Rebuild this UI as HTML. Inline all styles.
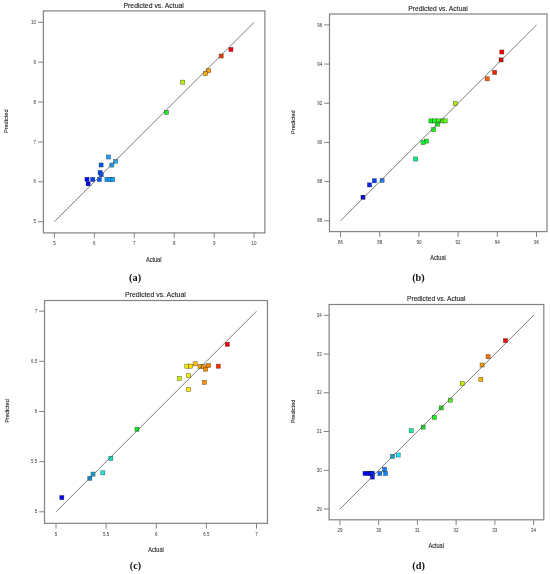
<!DOCTYPE html>
<html><head><meta charset="utf-8"><title>Predicted vs. Actual</title>
<style>
html,body{margin:0;padding:0;background:#fff;}
body{width:550px;height:574px;overflow:hidden;}
svg{display:block;}
.tk{font-family:"Liberation Sans",sans-serif;font-size:5.8px;fill:#333333;}
.ti{font-family:"Liberation Sans",sans-serif;font-size:7.8px;fill:#222;stroke:#222;stroke-width:.12px;}
.al{font-family:"Liberation Sans",sans-serif;font-size:6.4px;fill:#1e1e1e;stroke:#1e1e1e;stroke-width:.1px;}
.pl{font-family:"Liberation Sans",sans-serif;font-size:6.2px;fill:#1e1e1e;stroke:#1e1e1e;stroke-width:.1px;}
.lb{font-family:"Liberation Serif",serif;font-size:11px;font-weight:bold;fill:#111;}
</style></head>
<body>
<svg width="550" height="574" viewBox="0 0 550 574">
<rect width="550" height="574" fill="#fff"/>
<rect x="228.85" y="47.45" width="4.1" height="4.1" fill="#ff0000" stroke="rgba(0,0,0,.5)" stroke-width=".6"/>
<rect x="219.15" y="53.95" width="4.1" height="4.1" fill="#ff4000" stroke="rgba(0,0,0,.5)" stroke-width=".6"/>
<rect x="206.45" y="68.65" width="4.1" height="4.1" fill="#ffa000" stroke="rgba(0,0,0,.5)" stroke-width=".6"/>
<rect x="203.45" y="71.55" width="4.1" height="4.1" fill="#ffb000" stroke="rgba(0,0,0,.5)" stroke-width=".6"/>
<rect x="180.65" y="80.15" width="4.1" height="4.1" fill="#b0f010" stroke="rgba(0,0,0,.5)" stroke-width=".6"/>
<rect x="164.35" y="110.35" width="4.1" height="4.1" fill="#20f020" stroke="rgba(0,0,0,.5)" stroke-width=".6"/>
<rect x="106.45" y="154.95" width="4.1" height="4.1" fill="#20a0ff" stroke="rgba(0,0,0,.5)" stroke-width=".6"/>
<rect x="113.55" y="159.25" width="4.1" height="4.1" fill="#20b8ff" stroke="rgba(0,0,0,.5)" stroke-width=".6"/>
<rect x="109.75" y="163.05" width="4.1" height="4.1" fill="#10a8ff" stroke="rgba(0,0,0,.5)" stroke-width=".6"/>
<rect x="99.05" y="162.95" width="4.1" height="4.1" fill="#0060ff" stroke="rgba(0,0,0,.5)" stroke-width=".6"/>
<rect x="98.05" y="170.45" width="4.1" height="4.1" fill="#0050ff" stroke="rgba(0,0,0,.5)" stroke-width=".6"/>
<rect x="99.15" y="172.65" width="4.1" height="4.1" fill="#0050ff" stroke="rgba(0,0,0,.5)" stroke-width=".6"/>
<rect x="84.95" y="177.25" width="4.1" height="4.1" fill="#0008ff" stroke="rgba(0,0,0,.5)" stroke-width=".6"/>
<rect x="90.65" y="177.45" width="4.1" height="4.1" fill="#0038ff" stroke="rgba(0,0,0,.5)" stroke-width=".6"/>
<rect x="97.35" y="177.45" width="4.1" height="4.1" fill="#0060ff" stroke="rgba(0,0,0,.5)" stroke-width=".6"/>
<rect x="104.85" y="177.45" width="4.1" height="4.1" fill="#10a0ff" stroke="rgba(0,0,0,.5)" stroke-width=".6"/>
<rect x="107.75" y="177.45" width="4.1" height="4.1" fill="#10a0ff" stroke="rgba(0,0,0,.5)" stroke-width=".6"/>
<rect x="110.65" y="177.45" width="4.1" height="4.1" fill="#10a0ff" stroke="rgba(0,0,0,.5)" stroke-width=".6"/>
<rect x="86.05" y="181.75" width="4.1" height="4.1" fill="#0000f4" stroke="rgba(0,0,0,.5)" stroke-width=".6"/>
<line x1="54.4" y1="221.7" x2="254.1" y2="22.3" stroke="#5a5a5a" stroke-width=".8"/>
<rect x="43.4" y="10.9" width="221.5" height="222" fill="none" stroke="#828282" stroke-width="1.2"/>
<line x1="54.4" y1="232.9" x2="54.4" y2="238.2" stroke="#828282" stroke-width="1"/>
<text x="54.4" y="245" class="tk" text-anchor="middle" textLength="2.5" lengthAdjust="spacingAndGlyphs">5</text>
<line x1="94.34" y1="232.9" x2="94.34" y2="238.2" stroke="#828282" stroke-width="1"/>
<text x="94.34" y="245" class="tk" text-anchor="middle" textLength="2.5" lengthAdjust="spacingAndGlyphs">6</text>
<line x1="134.28" y1="232.9" x2="134.28" y2="238.2" stroke="#828282" stroke-width="1"/>
<text x="134.28" y="245" class="tk" text-anchor="middle" textLength="2.5" lengthAdjust="spacingAndGlyphs">7</text>
<line x1="174.22" y1="232.9" x2="174.22" y2="238.2" stroke="#828282" stroke-width="1"/>
<text x="174.22" y="245" class="tk" text-anchor="middle" textLength="2.5" lengthAdjust="spacingAndGlyphs">8</text>
<line x1="214.16" y1="232.9" x2="214.16" y2="238.2" stroke="#828282" stroke-width="1"/>
<text x="214.16" y="245" class="tk" text-anchor="middle" textLength="2.5" lengthAdjust="spacingAndGlyphs">9</text>
<line x1="254.1" y1="232.9" x2="254.1" y2="238.2" stroke="#828282" stroke-width="1"/>
<text x="254.1" y="245" class="tk" text-anchor="middle" textLength="5" lengthAdjust="spacingAndGlyphs">10</text>
<line x1="38.1" y1="221.7" x2="43.4" y2="221.7" stroke="#828282" stroke-width="1"/>
<text x="36.1" y="223.3" class="tk" text-anchor="end" textLength="2.5" lengthAdjust="spacingAndGlyphs">5</text>
<line x1="38.1" y1="181.82" x2="43.4" y2="181.82" stroke="#828282" stroke-width="1"/>
<text x="36.1" y="183.42" class="tk" text-anchor="end" textLength="2.5" lengthAdjust="spacingAndGlyphs">6</text>
<line x1="38.1" y1="141.94" x2="43.4" y2="141.94" stroke="#828282" stroke-width="1"/>
<text x="36.1" y="143.54" class="tk" text-anchor="end" textLength="2.5" lengthAdjust="spacingAndGlyphs">7</text>
<line x1="38.1" y1="102.06" x2="43.4" y2="102.06" stroke="#828282" stroke-width="1"/>
<text x="36.1" y="103.66" class="tk" text-anchor="end" textLength="2.5" lengthAdjust="spacingAndGlyphs">8</text>
<line x1="38.1" y1="62.18" x2="43.4" y2="62.18" stroke="#828282" stroke-width="1"/>
<text x="36.1" y="63.78" class="tk" text-anchor="end" textLength="2.5" lengthAdjust="spacingAndGlyphs">9</text>
<line x1="38.1" y1="22.3" x2="43.4" y2="22.3" stroke="#828282" stroke-width="1"/>
<text x="36.1" y="23.9" class="tk" text-anchor="end" textLength="5" lengthAdjust="spacingAndGlyphs">10</text>
<text x="153.65" y="7.6" class="ti" text-anchor="middle" textLength="60.3" lengthAdjust="spacingAndGlyphs">Predicted vs. Actual</text>
<text x="153.7" y="261.7" class="al" text-anchor="middle" textLength="15.6" lengthAdjust="spacingAndGlyphs">Actual</text>
<text x="0" y="0" class="pl" text-anchor="middle" textLength="23.6" lengthAdjust="spacingAndGlyphs" transform="translate(8 121.3) rotate(-90)">Predicted</text>
<text x="135.1" y="281" class="lb" text-anchor="middle" textLength="12" lengthAdjust="spacingAndGlyphs">(a)</text>
<rect x="499.75" y="49.95" width="4.1" height="4.1" fill="#ff0000" stroke="rgba(0,0,0,.5)" stroke-width=".6"/>
<rect x="499.05" y="57.85" width="4.1" height="4.1" fill="#e80000" stroke="rgba(0,0,0,.5)" stroke-width=".6"/>
<rect x="492.55" y="70.35" width="4.1" height="4.1" fill="#ff2000" stroke="rgba(0,0,0,.5)" stroke-width=".6"/>
<rect x="485.15" y="76.75" width="4.1" height="4.1" fill="#ff6000" stroke="rgba(0,0,0,.5)" stroke-width=".6"/>
<rect x="453.25" y="101.45" width="4.1" height="4.1" fill="#b0f000" stroke="rgba(0,0,0,.5)" stroke-width=".6"/>
<rect x="428.85" y="118.85" width="4.1" height="4.1" fill="#10f810" stroke="rgba(0,0,0,.5)" stroke-width=".6"/>
<rect x="432.55" y="118.85" width="4.1" height="4.1" fill="#20fa20" stroke="rgba(0,0,0,.5)" stroke-width=".6"/>
<rect x="436.45" y="118.85" width="4.1" height="4.1" fill="#38ff20" stroke="rgba(0,0,0,.5)" stroke-width=".6"/>
<rect x="440.35" y="118.85" width="4.1" height="4.1" fill="#50f810" stroke="rgba(0,0,0,.5)" stroke-width=".6"/>
<rect x="443.15" y="118.85" width="4.1" height="4.1" fill="#60ff10" stroke="rgba(0,0,0,.5)" stroke-width=".6"/>
<rect x="435.45" y="122.15" width="4.1" height="4.1" fill="#10f810" stroke="rgba(0,0,0,.5)" stroke-width=".6"/>
<rect x="431.45" y="127.55" width="4.1" height="4.1" fill="#10ff10" stroke="rgba(0,0,0,.5)" stroke-width=".6"/>
<rect x="424.35" y="139.05" width="4.1" height="4.1" fill="#10f830" stroke="rgba(0,0,0,.5)" stroke-width=".6"/>
<rect x="420.95" y="140.45" width="4.1" height="4.1" fill="#10f830" stroke="rgba(0,0,0,.5)" stroke-width=".6"/>
<rect x="413.55" y="156.95" width="4.1" height="4.1" fill="#00f080" stroke="rgba(0,0,0,.5)" stroke-width=".6"/>
<rect x="380.05" y="178.35" width="4.1" height="4.1" fill="#2080ff" stroke="rgba(0,0,0,.5)" stroke-width=".6"/>
<rect x="372.35" y="178.75" width="4.1" height="4.1" fill="#0040ff" stroke="rgba(0,0,0,.5)" stroke-width=".6"/>
<rect x="367.45" y="182.85" width="4.1" height="4.1" fill="#0020ff" stroke="rgba(0,0,0,.5)" stroke-width=".6"/>
<rect x="360.95" y="195.25" width="4.1" height="4.1" fill="#0000e8" stroke="rgba(0,0,0,.5)" stroke-width=".6"/>
<line x1="340.5" y1="220.8" x2="536.5" y2="24.9" stroke="#5a5a5a" stroke-width=".8"/>
<rect x="329.5" y="14" width="217.5" height="217.6" fill="none" stroke="#828282" stroke-width="1.2"/>
<line x1="340.5" y1="231.6" x2="340.5" y2="236.9" stroke="#828282" stroke-width="1"/>
<text x="340.5" y="244" class="tk" text-anchor="middle" textLength="5" lengthAdjust="spacingAndGlyphs">86</text>
<line x1="379.7" y1="231.6" x2="379.7" y2="236.9" stroke="#828282" stroke-width="1"/>
<text x="379.7" y="244" class="tk" text-anchor="middle" textLength="5" lengthAdjust="spacingAndGlyphs">88</text>
<line x1="418.9" y1="231.6" x2="418.9" y2="236.9" stroke="#828282" stroke-width="1"/>
<text x="418.9" y="244" class="tk" text-anchor="middle" textLength="5" lengthAdjust="spacingAndGlyphs">90</text>
<line x1="458.1" y1="231.6" x2="458.1" y2="236.9" stroke="#828282" stroke-width="1"/>
<text x="458.1" y="244" class="tk" text-anchor="middle" textLength="5" lengthAdjust="spacingAndGlyphs">92</text>
<line x1="497.3" y1="231.6" x2="497.3" y2="236.9" stroke="#828282" stroke-width="1"/>
<text x="497.3" y="244" class="tk" text-anchor="middle" textLength="5" lengthAdjust="spacingAndGlyphs">94</text>
<line x1="536.5" y1="231.6" x2="536.5" y2="236.9" stroke="#828282" stroke-width="1"/>
<text x="536.5" y="244" class="tk" text-anchor="middle" textLength="5" lengthAdjust="spacingAndGlyphs">96</text>
<line x1="324.2" y1="220.8" x2="329.5" y2="220.8" stroke="#828282" stroke-width="1"/>
<text x="322.2" y="222.4" class="tk" text-anchor="end" textLength="5" lengthAdjust="spacingAndGlyphs">86</text>
<line x1="324.2" y1="181.62" x2="329.5" y2="181.62" stroke="#828282" stroke-width="1"/>
<text x="322.2" y="183.22" class="tk" text-anchor="end" textLength="5" lengthAdjust="spacingAndGlyphs">88</text>
<line x1="324.2" y1="142.44" x2="329.5" y2="142.44" stroke="#828282" stroke-width="1"/>
<text x="322.2" y="144.04" class="tk" text-anchor="end" textLength="5" lengthAdjust="spacingAndGlyphs">90</text>
<line x1="324.2" y1="103.26" x2="329.5" y2="103.26" stroke="#828282" stroke-width="1"/>
<text x="322.2" y="104.86" class="tk" text-anchor="end" textLength="5" lengthAdjust="spacingAndGlyphs">92</text>
<line x1="324.2" y1="64.08" x2="329.5" y2="64.08" stroke="#828282" stroke-width="1"/>
<text x="322.2" y="65.68" class="tk" text-anchor="end" textLength="5" lengthAdjust="spacingAndGlyphs">94</text>
<line x1="324.2" y1="24.9" x2="329.5" y2="24.9" stroke="#828282" stroke-width="1"/>
<text x="322.2" y="26.5" class="tk" text-anchor="end" textLength="5" lengthAdjust="spacingAndGlyphs">96</text>
<text x="437.95" y="10.7" class="ti" text-anchor="middle" textLength="59.5" lengthAdjust="spacingAndGlyphs">Predicted vs. Actual</text>
<text x="438" y="260.1" class="al" text-anchor="middle" textLength="15.6" lengthAdjust="spacingAndGlyphs">Actual</text>
<text x="0" y="0" class="pl" text-anchor="middle" textLength="23.6" lengthAdjust="spacingAndGlyphs" transform="translate(295 122.1) rotate(-90)">Predicted</text>
<text x="418.5" y="281" class="lb" text-anchor="middle" textLength="12.6" lengthAdjust="spacingAndGlyphs">(b)</text>
<rect x="225.25" y="342.25" width="4.1" height="4.1" fill="#ff0000" stroke="rgba(0,0,0,.5)" stroke-width=".6"/>
<rect x="184.75" y="364.15" width="4.1" height="4.1" fill="#f0f000" stroke="rgba(0,0,0,.5)" stroke-width=".6"/>
<rect x="188.45" y="364.15" width="4.1" height="4.1" fill="#ffe000" stroke="rgba(0,0,0,.5)" stroke-width=".6"/>
<rect x="193.15" y="361.75" width="4.1" height="4.1" fill="#ffc000" stroke="rgba(0,0,0,.5)" stroke-width=".6"/>
<rect x="197.95" y="364.45" width="4.1" height="4.1" fill="#ffa800" stroke="rgba(0,0,0,.5)" stroke-width=".6"/>
<rect x="201.45" y="364.45" width="4.1" height="4.1" fill="#ffa000" stroke="rgba(0,0,0,.5)" stroke-width=".6"/>
<rect x="203.45" y="367.15" width="4.1" height="4.1" fill="#ff8800" stroke="rgba(0,0,0,.5)" stroke-width=".6"/>
<rect x="206.45" y="363.45" width="4.1" height="4.1" fill="#ff8000" stroke="rgba(0,0,0,.5)" stroke-width=".6"/>
<rect x="216.25" y="364.15" width="4.1" height="4.1" fill="#ff3000" stroke="rgba(0,0,0,.5)" stroke-width=".6"/>
<rect x="177.25" y="376.35" width="4.1" height="4.1" fill="#c8f000" stroke="rgba(0,0,0,.5)" stroke-width=".6"/>
<rect x="186.45" y="373.55" width="4.1" height="4.1" fill="#f0f000" stroke="rgba(0,0,0,.5)" stroke-width=".6"/>
<rect x="202.35" y="380.35" width="4.1" height="4.1" fill="#ff9000" stroke="rgba(0,0,0,.5)" stroke-width=".6"/>
<rect x="186.45" y="387.35" width="4.1" height="4.1" fill="#ffe000" stroke="rgba(0,0,0,.5)" stroke-width=".6"/>
<rect x="134.95" y="427.25" width="4.1" height="4.1" fill="#10f020" stroke="rgba(0,0,0,.5)" stroke-width=".6"/>
<rect x="108.75" y="456.35" width="4.1" height="4.1" fill="#00e8c8" stroke="rgba(0,0,0,.5)" stroke-width=".6"/>
<rect x="100.75" y="470.75" width="4.1" height="4.1" fill="#20e0e0" stroke="rgba(0,0,0,.5)" stroke-width=".6"/>
<rect x="90.95" y="472.05" width="4.1" height="4.1" fill="#10b0e0" stroke="rgba(0,0,0,.5)" stroke-width=".6"/>
<rect x="87.75" y="476.25" width="4.1" height="4.1" fill="#1090e0" stroke="rgba(0,0,0,.5)" stroke-width=".6"/>
<rect x="59.75" y="495.55" width="4.1" height="4.1" fill="#0000f0" stroke="rgba(0,0,0,.5)" stroke-width=".6"/>
<line x1="56" y1="511.8" x2="256.5" y2="311.2" stroke="#5a5a5a" stroke-width=".8"/>
<rect x="44.5" y="300.5" width="223" height="222.8" fill="none" stroke="#828282" stroke-width="1.2"/>
<line x1="56" y1="523.3" x2="56" y2="528.6" stroke="#828282" stroke-width="1"/>
<text x="56" y="535.5" class="tk" text-anchor="middle" textLength="2.5" lengthAdjust="spacingAndGlyphs">5</text>
<line x1="106.12" y1="523.3" x2="106.12" y2="528.6" stroke="#828282" stroke-width="1"/>
<text x="106.12" y="535.5" class="tk" text-anchor="middle" textLength="6.2" lengthAdjust="spacingAndGlyphs">5.5</text>
<line x1="156.25" y1="523.3" x2="156.25" y2="528.6" stroke="#828282" stroke-width="1"/>
<text x="156.25" y="535.5" class="tk" text-anchor="middle" textLength="2.5" lengthAdjust="spacingAndGlyphs">6</text>
<line x1="206.38" y1="523.3" x2="206.38" y2="528.6" stroke="#828282" stroke-width="1"/>
<text x="206.38" y="535.5" class="tk" text-anchor="middle" textLength="6.2" lengthAdjust="spacingAndGlyphs">6.5</text>
<line x1="256.5" y1="523.3" x2="256.5" y2="528.6" stroke="#828282" stroke-width="1"/>
<text x="256.5" y="535.5" class="tk" text-anchor="middle" textLength="2.5" lengthAdjust="spacingAndGlyphs">7</text>
<line x1="39.2" y1="511.8" x2="44.5" y2="511.8" stroke="#828282" stroke-width="1"/>
<text x="37.2" y="513.4" class="tk" text-anchor="end" textLength="2.5" lengthAdjust="spacingAndGlyphs">5</text>
<line x1="39.2" y1="461.65" x2="44.5" y2="461.65" stroke="#828282" stroke-width="1"/>
<text x="37.2" y="463.25" class="tk" text-anchor="end" textLength="6.2" lengthAdjust="spacingAndGlyphs">5.5</text>
<line x1="39.2" y1="411.5" x2="44.5" y2="411.5" stroke="#828282" stroke-width="1"/>
<text x="37.2" y="413.1" class="tk" text-anchor="end" textLength="2.5" lengthAdjust="spacingAndGlyphs">6</text>
<line x1="39.2" y1="361.35" x2="44.5" y2="361.35" stroke="#828282" stroke-width="1"/>
<text x="37.2" y="362.95" class="tk" text-anchor="end" textLength="6.2" lengthAdjust="spacingAndGlyphs">6.5</text>
<line x1="39.2" y1="311.2" x2="44.5" y2="311.2" stroke="#828282" stroke-width="1"/>
<text x="37.2" y="312.8" class="tk" text-anchor="end" textLength="2.5" lengthAdjust="spacingAndGlyphs">7</text>
<text x="155.45" y="296.9" class="ti" text-anchor="middle" textLength="60.7" lengthAdjust="spacingAndGlyphs">Predicted vs. Actual</text>
<text x="156" y="552.3" class="al" text-anchor="middle" textLength="15.6" lengthAdjust="spacingAndGlyphs">Actual</text>
<text x="0" y="0" class="pl" text-anchor="middle" textLength="23.6" lengthAdjust="spacingAndGlyphs" transform="translate(9.3 411) rotate(-90)">Predicted</text>
<text x="135.45" y="569" class="lb" text-anchor="middle" textLength="11.2" lengthAdjust="spacingAndGlyphs">(c)</text>
<rect x="503.45" y="338.55" width="4.1" height="4.1" fill="#ff0000" stroke="rgba(0,0,0,.5)" stroke-width=".6"/>
<rect x="486.05" y="354.65" width="4.1" height="4.1" fill="#ff7000" stroke="rgba(0,0,0,.5)" stroke-width=".6"/>
<rect x="480.05" y="362.95" width="4.1" height="4.1" fill="#ffa000" stroke="rgba(0,0,0,.5)" stroke-width=".6"/>
<rect x="478.75" y="377.35" width="4.1" height="4.1" fill="#ffb000" stroke="rgba(0,0,0,.5)" stroke-width=".6"/>
<rect x="460.25" y="381.45" width="4.1" height="4.1" fill="#c0f000" stroke="rgba(0,0,0,.5)" stroke-width=".6"/>
<rect x="448.35" y="398.15" width="4.1" height="4.1" fill="#58f020" stroke="rgba(0,0,0,.5)" stroke-width=".6"/>
<rect x="439.15" y="405.85" width="4.1" height="4.1" fill="#18e818" stroke="rgba(0,0,0,.5)" stroke-width=".6"/>
<rect x="432.35" y="415.25" width="4.1" height="4.1" fill="#10f810" stroke="rgba(0,0,0,.5)" stroke-width=".6"/>
<rect x="421.15" y="425.05" width="4.1" height="4.1" fill="#18e030" stroke="rgba(0,0,0,.5)" stroke-width=".6"/>
<rect x="409.15" y="428.65" width="4.1" height="4.1" fill="#10f0a8" stroke="rgba(0,0,0,.5)" stroke-width=".6"/>
<rect x="396.15" y="452.95" width="4.1" height="4.1" fill="#20e4ff" stroke="rgba(0,0,0,.5)" stroke-width=".6"/>
<rect x="390.45" y="454.35" width="4.1" height="4.1" fill="#10b0e8" stroke="rgba(0,0,0,.5)" stroke-width=".6"/>
<rect x="383.45" y="471.45" width="4.1" height="4.1" fill="#1080ff" stroke="rgba(0,0,0,.5)" stroke-width=".6"/>
<rect x="382.45" y="467.25" width="4.1" height="4.1" fill="#1080ff" stroke="rgba(0,0,0,.5)" stroke-width=".6"/>
<rect x="377.75" y="471.45" width="4.1" height="4.1" fill="#1070ff" stroke="rgba(0,0,0,.5)" stroke-width=".6"/>
<rect x="362.95" y="471.35" width="4.1" height="4.1" fill="#0000ff" stroke="rgba(0,0,0,.5)" stroke-width=".6"/>
<rect x="365.95" y="471.35" width="4.1" height="4.1" fill="#0008ff" stroke="rgba(0,0,0,.5)" stroke-width=".6"/>
<rect x="368.45" y="471.35" width="4.1" height="4.1" fill="#0010ff" stroke="rgba(0,0,0,.5)" stroke-width=".6"/>
<rect x="370.45" y="471.35" width="4.1" height="4.1" fill="#0020ff" stroke="rgba(0,0,0,.5)" stroke-width=".6"/>
<rect x="370.25" y="475.05" width="4.1" height="4.1" fill="#0010ff" stroke="rgba(0,0,0,.5)" stroke-width=".6"/>
<line x1="339.9" y1="509" x2="533.6" y2="315.3" stroke="#5a5a5a" stroke-width=".8"/>
<rect x="329.1" y="304.5" width="214.7" height="215.3" fill="none" stroke="#828282" stroke-width="1.2"/>
<line x1="339.9" y1="519.8" x2="339.9" y2="525.1" stroke="#828282" stroke-width="1"/>
<text x="339.9" y="531.7" class="tk" text-anchor="middle" textLength="5" lengthAdjust="spacingAndGlyphs">29</text>
<line x1="378.64" y1="519.8" x2="378.64" y2="525.1" stroke="#828282" stroke-width="1"/>
<text x="378.64" y="531.7" class="tk" text-anchor="middle" textLength="5" lengthAdjust="spacingAndGlyphs">30</text>
<line x1="417.38" y1="519.8" x2="417.38" y2="525.1" stroke="#828282" stroke-width="1"/>
<text x="417.38" y="531.7" class="tk" text-anchor="middle" textLength="5" lengthAdjust="spacingAndGlyphs">31</text>
<line x1="456.12" y1="519.8" x2="456.12" y2="525.1" stroke="#828282" stroke-width="1"/>
<text x="456.12" y="531.7" class="tk" text-anchor="middle" textLength="5" lengthAdjust="spacingAndGlyphs">32</text>
<line x1="494.86" y1="519.8" x2="494.86" y2="525.1" stroke="#828282" stroke-width="1"/>
<text x="494.86" y="531.7" class="tk" text-anchor="middle" textLength="5" lengthAdjust="spacingAndGlyphs">33</text>
<line x1="533.6" y1="519.8" x2="533.6" y2="525.1" stroke="#828282" stroke-width="1"/>
<text x="533.6" y="531.7" class="tk" text-anchor="middle" textLength="5" lengthAdjust="spacingAndGlyphs">34</text>
<line x1="323.8" y1="509" x2="329.1" y2="509" stroke="#828282" stroke-width="1"/>
<text x="321.8" y="510.6" class="tk" text-anchor="end" textLength="5" lengthAdjust="spacingAndGlyphs">29</text>
<line x1="323.8" y1="470.26" x2="329.1" y2="470.26" stroke="#828282" stroke-width="1"/>
<text x="321.8" y="471.86" class="tk" text-anchor="end" textLength="5" lengthAdjust="spacingAndGlyphs">30</text>
<line x1="323.8" y1="431.52" x2="329.1" y2="431.52" stroke="#828282" stroke-width="1"/>
<text x="321.8" y="433.12" class="tk" text-anchor="end" textLength="5" lengthAdjust="spacingAndGlyphs">31</text>
<line x1="323.8" y1="392.78" x2="329.1" y2="392.78" stroke="#828282" stroke-width="1"/>
<text x="321.8" y="394.38" class="tk" text-anchor="end" textLength="5" lengthAdjust="spacingAndGlyphs">32</text>
<line x1="323.8" y1="354.04" x2="329.1" y2="354.04" stroke="#828282" stroke-width="1"/>
<text x="321.8" y="355.64" class="tk" text-anchor="end" textLength="5" lengthAdjust="spacingAndGlyphs">33</text>
<line x1="323.8" y1="315.3" x2="329.1" y2="315.3" stroke="#828282" stroke-width="1"/>
<text x="321.8" y="316.9" class="tk" text-anchor="end" textLength="5" lengthAdjust="spacingAndGlyphs">34</text>
<text x="436.25" y="301.45" class="ti" text-anchor="middle" textLength="58.5" lengthAdjust="spacingAndGlyphs">Predicted vs. Actual</text>
<text x="436.2" y="547.9" class="al" text-anchor="middle" textLength="15.6" lengthAdjust="spacingAndGlyphs">Actual</text>
<text x="0" y="0" class="pl" text-anchor="middle" textLength="23.6" lengthAdjust="spacingAndGlyphs" transform="translate(295 411.45) rotate(-90)">Predicted</text>
<text x="418.6" y="569" class="lb" text-anchor="middle" textLength="12.6" lengthAdjust="spacingAndGlyphs">(d)</text>
</svg>
</body></html>
